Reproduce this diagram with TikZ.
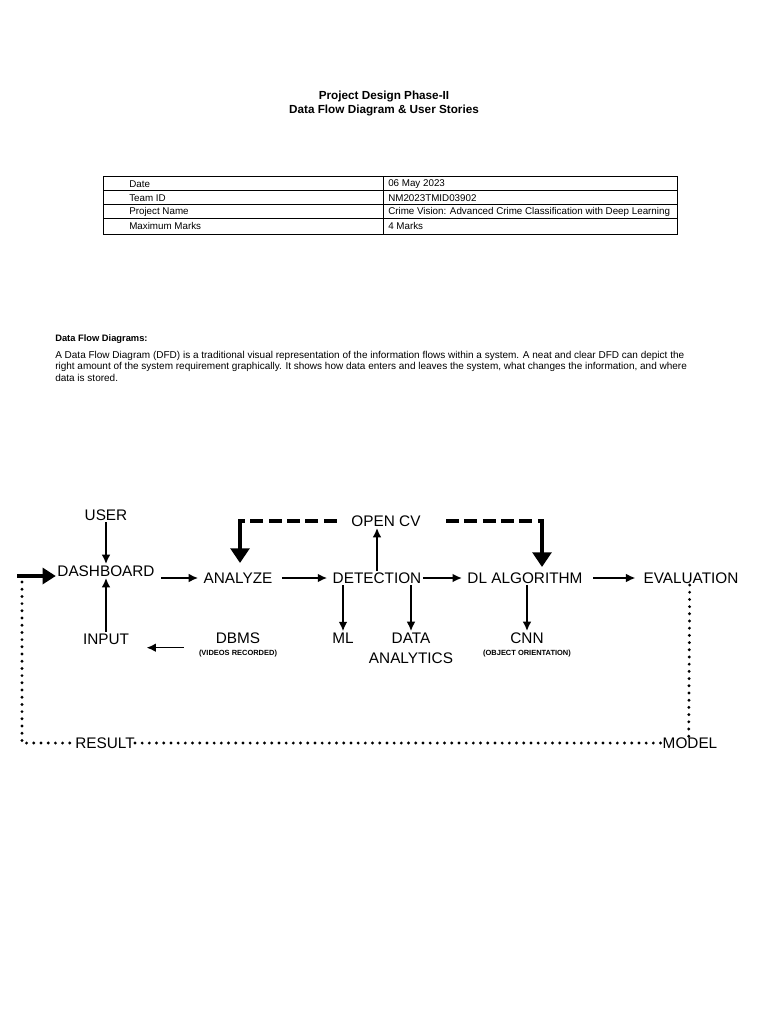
\documentclass[tikz,border=0pt]{standalone}
\usepackage{fontspec}
\setmainfont{Liberation Sans}
\usetikzlibrary{arrows.meta,positioning}
\tikzstyle{lbl} = [inner sep=1pt, font=\fontsize{11.5}{15}\selectfont, align=center]
\tikzstyle{note} = [inner sep=0pt, font=\bfseries\fontsize{5.6}{6}\selectfont]
\tikzstyle{cell} = [anchor=west, inner sep=0pt, font=\fontsize{7.35}{8}\selectfont]
\tikzstyle{txt} = [anchor=west, inner sep=0pt, font=\fontsize{7.5}{8}\selectfont]
\tikzstyle{arrow} = [line width=1.1pt,-{Latex[length=7pt,width=6.5pt]}]
\tikzset{
  bigdash/.style={
    line width=3pt,
    dash pattern=on 9.75pt off 4pt
    },
  bighead/.style={
    line width=3pt,
    -{Triangle[length=11pt,width=14pt]}
    },
  dots/.style={
    line width=2.4pt,
    line cap=round,
    dash pattern=on 0pt off 5.4pt
    },
}

\begin{document}
\begin{tikzpicture}[x=0.75pt,y=-0.75pt]
\useasboundingbox (0,0) rectangle (768,1024);

% heading
\node (title1) at (384,96) [font=\bfseries\fontsize{8.8}{10}\selectfont] {Project Design Phase-II};
\node (title2) at (384,110) [font=\bfseries\fontsize{8.8}{10}\selectfont] {Data Flow Diagram \& User Stories};

% table
\draw[line width=0.6pt] (103,176) rectangle (677,234);
\draw[line width=0.6pt] (383,176) -- (383,234);
\draw[line width=0.6pt] (103,190.5) -- (677,190.5) (103,204.5) -- (677,204.5) (103,218.5) -- (677,218.5);
\foreach \y/\a/\b in {184/Date/06 May 2023, 198/Team ID/NM2023TMID03902,
  212/Project Name/Crime Vision: Advanced Crime Classification with Deep Learning,
  226/Maximum Marks/4 Marks}{
  \node[cell] at (129,\y) {\a};
  \node[cell] at (388,\y) {\b};
}

% text
\node (head) at (55,339) [txt, font=\bfseries\fontsize{7}{8}\selectfont] {Data Flow Diagrams:};
\node (para1) at (55,356) [txt] {A Data Flow Diagram (DFD) is a traditional visual representation of the information flows within a system. A neat and clear DFD can depict the};
\node (para2) at (55,367) [txt] {right amount of the system requirement graphically. It shows how data enters and leaves the system, what changes the information, and where};
\node (para3) at (55,378) [txt] {data is stored.};

% diagram
\node (user) at (106,515) [lbl] {USER};
\node (dash) at (106,571) [lbl] {DASHBOARD};
\node (analyze) at (238,578) [lbl] {ANALYZE};
\node (detect) at (377,578) [lbl] {DETECTION};
\node (dlalg) at (525,578) [lbl] {DL ALGORITHM};
\node (eval) at (691,578) [lbl] {EVALUATION};
\node (opencv) at (386,521) [lbl] {OPEN CV};
\node (input) at (106,639) [lbl] {INPUT};
\node (dbms) at (238,638) [lbl] {DBMS};
\node (dbmsnote) at (238,654) [note] {(VIDEOS RECORDED)};
\node (ml) at (343,638) [lbl] {ML};
\node (data) at (411,648) [lbl] {DATA\\ANALYTICS};
\node (cnn) at (527,638) [lbl] {CNN};
\node (cnnnote) at (527,654) [note] {(OBJECT ORIENTATION)};
\node (result) at (105,743) [lbl, inner sep=0pt] {RESULT};
\node (model) at (690,743) [lbl, inner sep=0pt] {MODEL};
\coordinate (entry) at (17,576);
\coordinate (loop) at (22,582);
\coordinate (cornerL) at (240,521);
\coordinate (cornerR) at (542,521);

\draw [arrow] (user) -- (dash);
\draw [arrow] (input) -- (dash);
\draw [arrow, shorten <=4, shorten >=3] (dash.east |- analyze) -- (analyze);
\draw [arrow, shorten <=6, shorten >=3] (analyze) -- (detect);
\draw [arrow, shorten >=3] (detect) -- (dlalg);
\draw [arrow, shorten <=7, shorten >=5] (dlalg) -- (eval);
\draw [arrow] (detect.north) -- (detect.north |- opencv.south);
\draw [arrow] (ml.north |- detect.south) -- (ml);
\draw [arrow] (data.north |- detect.south) -- (data);
\draw [arrow] (cnn.north |- dlalg.south) -- (cnn);
\draw [arrow, shorten <=23, shorten >=12] ([yshift=-2]dbms.south west) -- ([yshift=-2]dbms.south west -| input.east);
\draw [bigdash, shorten <=10, shorten >=-1.5] (opencv.west) -- (cornerL);
\draw [bighead] ([yshift=1.5]cornerL) -- (cornerL |- 0,563);
\draw [bigdash, shorten <=18, shorten >=-1.5] (opencv.east) -- (cornerR);
\draw [bighead] ([yshift=1.5]cornerR) -- (cornerR |- 0,567);
\draw [line width=3pt, -{Triangle[length=10pt,width=12pt]}] (entry) -- (entry -| dash.west);
\draw [dots] (loop) |- (result.west);
\draw [dots] (result.east) -- (model.west);
\draw [dots] ([xshift=-1]eval.south) -- ([xshift=-1]model.north);
\end{tikzpicture}
\end{document}
